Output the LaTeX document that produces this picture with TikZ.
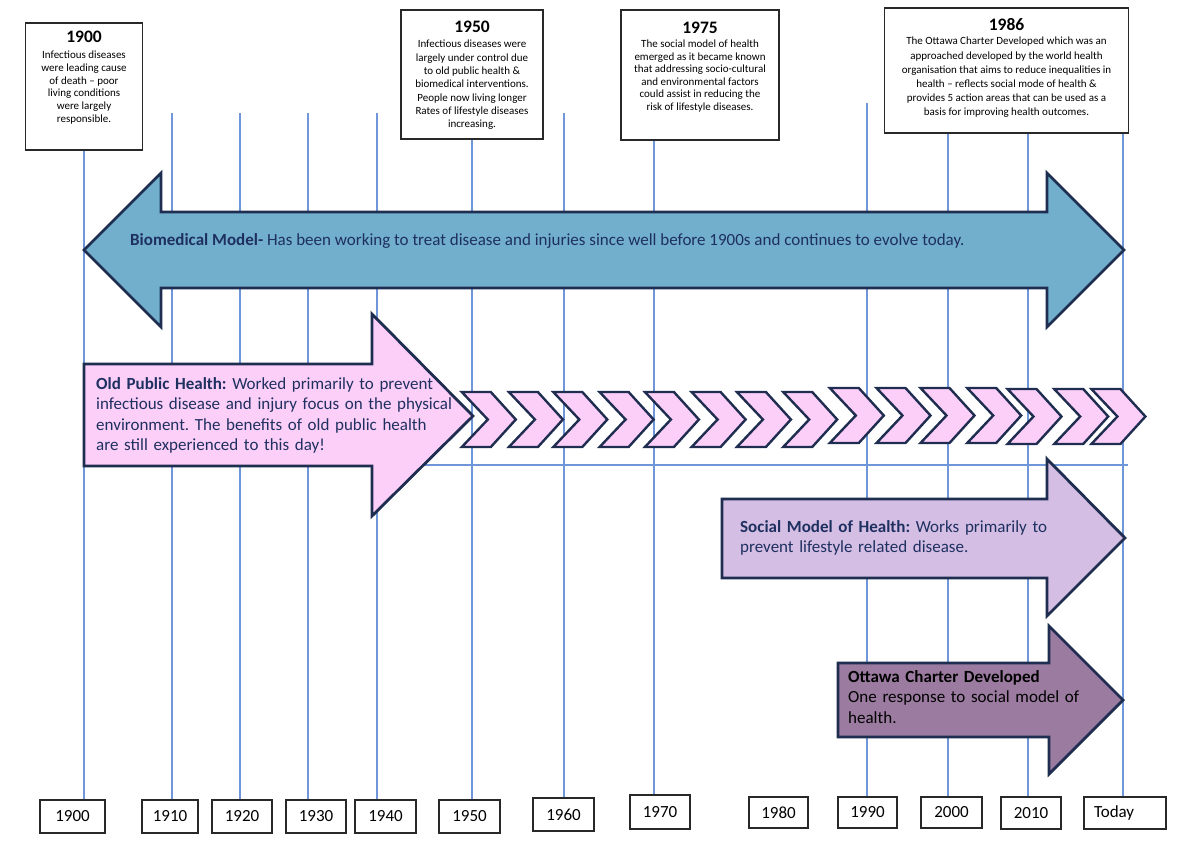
\documentclass[tikz,border=0pt]{standalone}
\usepackage{fontspec}
\setmainfont{Carlito}
\definecolor{gridblue}{RGB}{112,150,218}
\definecolor{navy}{RGB}{30,45,80}
\definecolor{txtnavy}{RGB}{30,48,96}
\definecolor{biofill}{RGB}{113,175,204}
\definecolor{pinkfill}{RGB}{252,207,248}
\definecolor{lavfill}{RGB}{212,190,228}
\definecolor{ottfill}{RGB}{155,123,160}
\definecolor{boxgray}{RGB}{40,40,40}
\begin{document}
\frenchspacing
\begin{tikzpicture}[x=1pt,y=-1pt,
  gridline/.style={draw=gridblue,line width=1.1pt},
  tbox/.style={draw=boxgray,fill=white,line width=1.1pt,inner sep=0pt},
  ybox/.style={draw=boxgray,fill=white,line width=1.1pt,inner sep=0pt,font=\fontsize{17}{20}\selectfont},
  ttl/.style={font=\bfseries\fontsize{17.5}{20}\selectfont,inner sep=0pt,anchor=base},
  small/.style={align=center,inner sep=0pt,anchor=north},
  bigarrow/.style={draw=navy,line width=2.8pt,line join=miter,miter limit=10},
  chevron/.style={draw=navy,line width=2.4pt,fill=pinkfill,line join=miter,miter limit=10},
  atext/.style={font=\fontsize{17}{20.5}\selectfont,text=txtnavy,align=left,inner sep=0pt,anchor=base west}
]
\useasboundingbox (0,0) rectangle (1200,849);
\fill[white] (0,0) rectangle (1200,849);

% top boxes
\node[tbox,minimum width=117,minimum height=127] (t1900) at (84,86.5) {};
\node[ttl] (h1900) at (84,42.5) {1900};
\node[small,font=\fontsize{11}{12.7}\selectfont] (d1900) at (84,51) {Infectious diseases\\were leading cause\\of death -- poor\\living conditions\\were largely\\responsible.};

\node[tbox,minimum width=142,minimum height=129] (t1950) at (472,74.5) {};
\node[ttl] (h1950) at (472,32.5) {1950};
\node[small,font=\fontsize{11}{13.3}\selectfont] (d1950) at (472,40) {Infectious diseases were\\largely under control due\\to old public health \&\\biomedical interventions.\\People now living longer\\Rates of lifestyle diseases\\increasing.};

\node[tbox,minimum width=158,minimum height=130] (t1975) at (700,75) {};
\node[ttl] (h1975) at (700,33.5) {1975};
\node[small,font=\fontsize{11}{12.5}\selectfont] (d1975) at (700,40) {The social model of health\\emerged as it became known\\that addressing socio-cultural\\and environmental factors\\could assist in reducing the\\risk of lifestyle diseases.};

\node[tbox,minimum width=244,minimum height=125] (t1986) at (1006.5,70.5) {};
\node[ttl] (h1986) at (1006.5,30.5) {1986};
\node[small,font=\fontsize{11}{14.2}\selectfont] (d1986) at (1006.5,37) {The Ottawa Charter Developed which was an\\approached developed by the world health\\organisation that aims to reduce inequalities in\\health -- reflects social mode of health \&\\provides 5 action areas that can be used as a\\basis for improving health outcomes.};

% bottom year boxes
\node[ybox,minimum width=65,minimum height=33] (y1900) at (72.5,816.5) {1900};
\node[ybox,minimum width=56,minimum height=33] (y1910) at (170,816.5) {1910};
\node[ybox,minimum width=60,minimum height=33] (y1920) at (242,816.5) {1920};
\node[ybox,minimum width=60,minimum height=33] (y1930) at (316,816.5) {1930};
\node[ybox,minimum width=61,minimum height=33] (y1940) at (385.5,816.5) {1940};
\node[ybox,minimum width=61,minimum height=33] (y1950) at (469.5,816.5) {1950};
\node[ybox,minimum width=61,minimum height=33] (y1960) at (563.5,814.5) {1960};
\node[ybox,minimum width=60,minimum height=34] (y1970) at (660,812) {1970};
\node[ybox,minimum width=59,minimum height=31] (y1980) at (778.5,812.5) {1980};
\node[ybox,minimum width=59,minimum height=31] (y1990) at (867.5,812.5) {1990};
\node[ybox,minimum width=61,minimum height=31] (y2000) at (951.5,812.5) {2000};
\node[ybox,minimum width=60,minimum height=32] (y2010) at (1031,813) {2010};
\node[ybox,minimum height=32,inner xsep=10pt,text width=62pt,align=left] (ytoday) at (1125,813) {Today};

% grid line tops
\coordinate (g1910) at (172,113);
\coordinate (g1920) at (240,113);
\coordinate (g1930) at (308,113);
\coordinate (g1940) at (377,113);
\coordinate (g1960) at (564,113);
\coordinate (g1990) at (867,103);
\coordinate (hl) at (420,465);
\coordinate (hr) at (1128,465);

\draw[gridline] (t1900.south) -- (t1900.south |- y1900.north);
\draw[gridline] (g1910) -- (g1910 |- y1910.north);
\draw[gridline] (g1920) -- (g1920 |- y1920.north);
\draw[gridline] (g1930) -- (g1930 |- y1930.north);
\draw[gridline] (g1940) -- (g1940 |- y1940.north);
\draw[gridline] (t1950.south) -- (t1950.south |- y1950.north);
\draw[gridline] (g1960) -- (g1960 |- y1960.north);
\draw[gridline] (654,0 |- t1975.south) -- (654,0 |- y1970.north);
\draw[gridline] (g1990) -- (g1990 |- y1990.north);
\draw[gridline] (948,0 |- t1986.south) -- (948,0 |- y2000.north);
\draw[gridline] (1028,0 |- t1986.south) -- (1028,0 |- y2010.north);
\draw[gridline] (1123,0 |- t1986.south) -- (1123,0 |- ytoday.north);
\draw[gridline] (hl) -- (hr);

% Biomedical double arrow
\draw[bigarrow,fill=biofill] (84,250) -- (161,173) -- (161,212) -- (1047,212) -- (1047,173) -- (1124,250) -- (1047,327) -- (1047,288) -- (161,288) -- (161,327) -- cycle;
\node[atext] (bio) at (130,245) {\textbf{Biomedical Model-} Has been working to treat disease and injuries since well before 1900s and continues to evolve today.};

% Old public health arrow
\draw[bigarrow,fill=pinkfill] (84,364) -- (372,364) -- (372,314) -- (473,416) -- (372,516) -- (372,466) -- (84,466) -- cycle;
\node[atext,text width=360pt] (oph) at (96,389) {\textbf{Old Public Health:} Worked primarily to prevent\\infectious disease and injury focus on the physical\\environment. The benefits of old public health\\are still experienced to this day!};

% chevrons
\foreach \x/\t in {461.8/392,508.9/392,553.3/392,599.6/392,644.9/392,691.6/392,736.9/392,783.2/392,829.8/388,876.5/388,920.5/388,967.2/388,1007.5/389,1054.2/389,1091.4/389}{
  \draw[chevron] (\x,\t) -- ++(29,0) -- ++(25,27.5) -- ++(-25,27.5) -- ++(-29,0) -- ++(26,-27.5) -- cycle;
}

% Social model arrow
\draw[bigarrow,fill=lavfill] (722,499) -- (1047,499) -- (1047,459) -- (1125,538) -- (1047,616) -- (1047,578) -- (722,578) -- cycle;
\node[atext,text width=320pt] (smh) at (740,532) {\textbf{Social Model of Health:} Works primarily to\\prevent lifestyle related disease.};

% Ottawa arrow
\draw[bigarrow,fill=ottfill] (838,663) -- (1049,663) -- (1049,626) -- (1123,700) -- (1049,774) -- (1049,737) -- (838,737) -- cycle;
\node[atext,text=black,text width=240pt] (ott) at (848,682) {\textbf{Ottawa Charter Developed}\\One response to social model of\\health.};
\end{tikzpicture}
\end{document}
